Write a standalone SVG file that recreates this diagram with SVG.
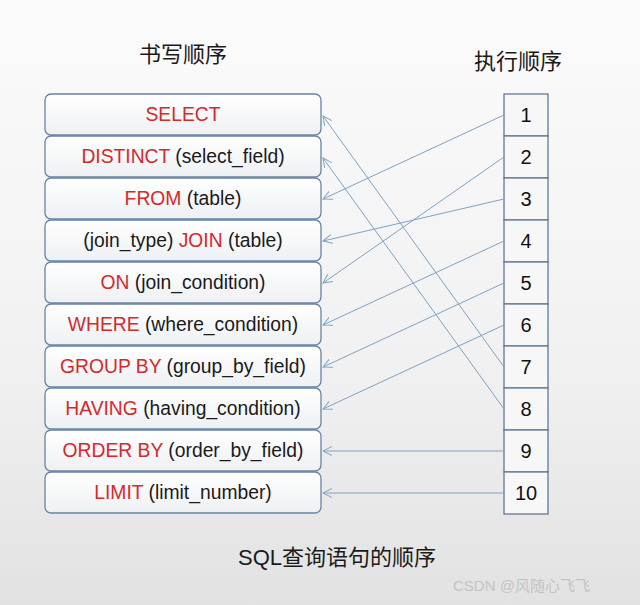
<svg xmlns="http://www.w3.org/2000/svg" width="640" height="605" viewBox="0 0 640 605">
<defs>
<linearGradient id="bg" x1="0" y1="0" x2="0" y2="1">
<stop offset="0" stop-color="#fbfbfb"/>
<stop offset="0.6" stop-color="#f1f1f1"/>
<stop offset="1" stop-color="#e2e2e2"/>
</linearGradient>
<linearGradient id="boxg" x1="0" y1="0" x2="0" y2="1">
<stop offset="0" stop-color="#ffffff"/>
<stop offset="1" stop-color="#eef0f3"/>
</linearGradient>
<marker id="ah" viewBox="0 0 10 10" refX="9" refY="5" markerWidth="10" markerHeight="10" markerUnits="userSpaceOnUse" orient="auto">
<path d="M0,0.5 L9,5 L0,9.5" fill="none" stroke="#7fa2c4" stroke-width="1"/>
</marker>
</defs>
<style>
.box{fill:url(#boxg);stroke:#6884a4;stroke-width:1.3}
.num{fill:#f7f7f7;stroke:#56718c;stroke-width:1.2}
.t{font-family:"Liberation Sans",Arial,sans-serif;font-size:19.3px;fill:#1a1a1a;text-anchor:middle}
.k{fill:#d42a2a}
.n{font-family:"Liberation Sans",Arial,sans-serif;font-size:20px;fill:#111;text-anchor:middle}
.h{font-family:"Liberation Sans","Noto Sans CJK SC",sans-serif;font-size:22px;fill:#1a1a1a;text-anchor:middle}
.c{stroke:#7fa2c4;stroke-width:1;fill:none;marker-end:url(#ah)}
</style>
<rect x="0" y="0" width="640" height="605" fill="url(#bg)"/>
<text class="h" x="183" y="62">书写顺序</text>
<text class="h" x="518" y="69">执行顺序</text>
<g id="w1"><rect class="box" x="45" y="94" width="276" height="41" rx="6"/><text class="t" x="183" y="121"><tspan class="k">SELECT</tspan></text></g>
<g id="w2"><rect class="box" x="45" y="136" width="276" height="41" rx="6"/><text class="t" x="183" y="163"><tspan class="k">DISTINCT</tspan> (select_field)</text></g>
<g id="w3"><rect class="box" x="45" y="178" width="276" height="41" rx="6"/><text class="t" x="183" y="205"><tspan class="k">FROM</tspan> (table)</text></g>
<g id="w4"><rect class="box" x="45" y="220" width="276" height="41" rx="6"/><text class="t" x="183" y="247">(join_type) <tspan class="k">JOIN</tspan> (table)</text></g>
<g id="w5"><rect class="box" x="45" y="262" width="276" height="41" rx="6"/><text class="t" x="183" y="289"><tspan class="k">ON</tspan> (join_condition)</text></g>
<g id="w6"><rect class="box" x="45" y="304" width="276" height="41" rx="6"/><text class="t" x="183" y="331"><tspan class="k">WHERE</tspan> (where_condition)</text></g>
<g id="w7"><rect class="box" x="45" y="346" width="276" height="41" rx="6"/><text class="t" x="183" y="373"><tspan class="k">GROUP BY</tspan> (group_by_field)</text></g>
<g id="w8"><rect class="box" x="45" y="388" width="276" height="41" rx="6"/><text class="t" x="183" y="415"><tspan class="k">HAVING</tspan> (having_condition)</text></g>
<g id="w9"><rect class="box" x="45" y="430" width="276" height="41" rx="6"/><text class="t" x="183" y="457"><tspan class="k">ORDER BY</tspan> (order_by_field)</text></g>
<g id="w10"><rect class="box" x="45" y="472" width="276" height="41" rx="6"/><text class="t" x="183" y="499"><tspan class="k">LIMIT</tspan> (limit_number)</text></g>
<g id="e1"><rect class="num" x="504" y="94" width="44" height="42"/><text class="n" x="526" y="122">1</text></g>
<g id="e2"><rect class="num" x="504" y="136" width="44" height="42"/><text class="n" x="526" y="164">2</text></g>
<g id="e3"><rect class="num" x="504" y="178" width="44" height="42"/><text class="n" x="526" y="206">3</text></g>
<g id="e4"><rect class="num" x="504" y="220" width="44" height="42"/><text class="n" x="526" y="248">4</text></g>
<g id="e5"><rect class="num" x="504" y="262" width="44" height="42"/><text class="n" x="526" y="290">5</text></g>
<g id="e6"><rect class="num" x="504" y="304" width="44" height="42"/><text class="n" x="526" y="332">6</text></g>
<g id="e7"><rect class="num" x="504" y="346" width="44" height="42"/><text class="n" x="526" y="374">7</text></g>
<g id="e8"><rect class="num" x="504" y="388" width="44" height="42"/><text class="n" x="526" y="416">8</text></g>
<g id="e9"><rect class="num" x="504" y="430" width="44" height="42"/><text class="n" x="526" y="458">9</text></g>
<g id="e10"><rect class="num" x="504" y="472" width="44" height="42"/><text class="n" x="526" y="500">10</text></g>
<g id="connectors">
<line class="c" x1="504" y1="115" x2="323" y2="199"/>
<line class="c" x1="504" y1="157" x2="323" y2="283"/>
<line class="c" x1="504" y1="199" x2="323" y2="241"/>
<line class="c" x1="504" y1="241" x2="323" y2="325"/>
<line class="c" x1="504" y1="283" x2="323" y2="367"/>
<line class="c" x1="504" y1="325" x2="323" y2="409"/>
<line class="c" x1="504" y1="367" x2="323" y2="116"/>
<line class="c" x1="504" y1="409" x2="323" y2="158"/>
<line class="c" x1="504" y1="451" x2="323" y2="451"/>
<line class="c" x1="504" y1="493" x2="323" y2="493"/>
</g>
<text class="h" x="337" y="565">SQL查询语句的顺序</text>
<text x="453" y="591" font-family="'Liberation Sans','Noto Sans CJK SC',sans-serif" font-size="15" fill="#c4c4c4">CSDN @风随心飞飞</text>
</svg>
